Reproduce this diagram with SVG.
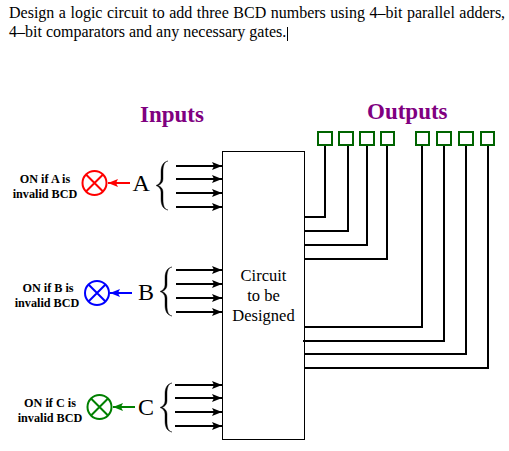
<svg xmlns="http://www.w3.org/2000/svg" width="509" height="451" viewBox="0 0 509 451">
<style>
text{font-family:"Liberation Serif","Times New Roman",serif;fill:#000}
.q{font-size:16px}
.h{font-size:23px;font-weight:bold;fill:#800080}
.s{font-size:12.200px;font-weight:bold;text-anchor:middle}
.l{font-size:24px}
.b{font-size:16.500px;text-anchor:middle}
.w{fill:none;stroke:#000;stroke-width:2}
.o{fill:#fff;stroke:#006400;stroke-width:2}
.br{fill:#000;stroke:#000;stroke-width:.4}
.lamp{fill:none;stroke-width:2}
</style>
<defs>
<marker id="k" markerUnits="userSpaceOnUse" markerWidth="10" markerHeight="8" refX="10" refY="4" orient="auto"><path d="M0 0L10 4L0 8L2 4Z" fill="#000"/></marker>
<marker id="r" markerUnits="userSpaceOnUse" markerWidth="10" markerHeight="8" refX="10" refY="4" orient="auto"><path d="M0 0L10 4L0 8L2 4Z" fill="#f00"/></marker>
<marker id="u" markerUnits="userSpaceOnUse" markerWidth="10" markerHeight="8" refX="10" refY="4" orient="auto"><path d="M0 0L10 4L0 8L2 4Z" fill="#00f"/></marker>
<marker id="g" markerUnits="userSpaceOnUse" markerWidth="10" markerHeight="8" refX="10" refY="4" orient="auto"><path d="M0 0L10 4L0 8L2 4Z" fill="#008000"/></marker>
<path id="brace" d="M12 0C7 1 5 5 5 11V18C5 21 3 23.500 0 24.500C3 25.500 5 28 5 31V38C5 44 7 48 12 49C8 48 7 44 7 38V31C7 28 5 25.500 2 24.500C5 23.500 7 21 7 18V11C7 5 8 1 12 0Z"/>
<path id="x" d="M-8.500 -8.500L8.500 8.500M-8.500 8.500L8.500 -8.500"/>
</defs>
<g id="question">
<text class="q" x="9" y="18" word-spacing="0.5">Design a logic circuit to add three BCD numbers using 4–bit parallel adders,</text>
<text class="q" x="9" y="37">4–bit comparators and any necessary gates.</text>
<path d="M287.500 27V41" stroke="#000" fill="none"/>
</g>
<text class="h" x="140" y="122">Inputs</text>
<text class="h" x="367" y="119">Outputs</text>
<g id="connectors">
<g class="w">
<path d="M304 217H325V145M304 231H348V145M304 245H367V145M304 259H387V145"/>
<path d="M304 327H422V145M303 341H444V145M304 354H466V145M304 368H488V145"/>
</g>
<g class="w" marker-end="url(#k)">
<path d="M176 166H222"/><path d="M176 179H222"/><path d="M176 193H222"/><path d="M176 207H222"/>
<path d="M176 270H222"/><path d="M176 284H222"/><path d="M176 298H222"/><path d="M176 312H222"/>
<path d="M175 385H222"/><path d="M175 398H222"/><path d="M175 412H222"/><path d="M175 426H222"/>
</g>
<path d="M130 183H108" fill="none" stroke="#f00" stroke-width="2" marker-end="url(#r)"/>
<path d="M132 293H110" fill="none" stroke="#00f" stroke-width="2" marker-end="url(#u)"/>
<path d="M135 407H113" fill="none" stroke="#008000" stroke-width="2" marker-end="url(#g)"/>
</g>
<g id="circuit">
<rect x="222.500" y="151.500" width="82" height="288" fill="none" stroke="#000"/>
<text class="b" x="263.500" y="281">Circuit</text>
<text class="b" x="263.500" y="301">to be</text>
<text class="b" x="263.500" y="321">Designed</text>
</g>
<g id="outputs">
<rect class="o" x="318" y="132" width="14" height="13"/><rect class="o" x="339" y="132" width="14" height="13"/>
<rect class="o" x="360" y="132" width="14" height="13"/><rect class="o" x="381" y="132" width="13" height="13"/>
<rect class="o" x="416" y="132" width="13" height="13"/><rect class="o" x="437" y="132" width="14" height="13"/>
<rect class="o" x="459" y="132" width="14" height="13"/><rect class="o" x="481" y="132" width="13" height="13"/>
</g>
<g id="input-a">
<text class="s" x="45" y="183">ON if A is</text><text class="s" x="45" y="198">invalid BCD</text>
<g transform="translate(94.500 183)" class="lamp" stroke="#f00"><circle r="12"/><use href="#x"/></g>
<text class="l" x="132.500" y="191">A</text>
<use href="#brace" class="br" x="156" y="161"/>
</g>
<g id="input-b">
<text class="s" x="48" y="292">ON if B is</text><text class="s" x="47" y="307">invalid BCD</text>
<g transform="translate(97 293)" class="lamp" stroke="#00f"><circle r="12"/><use href="#x"/></g>
<text class="l" x="138" y="300">B</text>
<use href="#brace" class="br" x="160" y="267"/>
</g>
<g id="input-c">
<text class="s" x="50" y="407">ON if C is</text><text class="s" x="50" y="422">invalid BCD</text>
<g transform="translate(99.500 407)" class="lamp" stroke="#008000"><circle r="12"/><use href="#x"/></g>
<text class="l" x="138" y="415">C</text>
<use href="#brace" class="br" x="160" y="383"/>
</g>
</svg>
